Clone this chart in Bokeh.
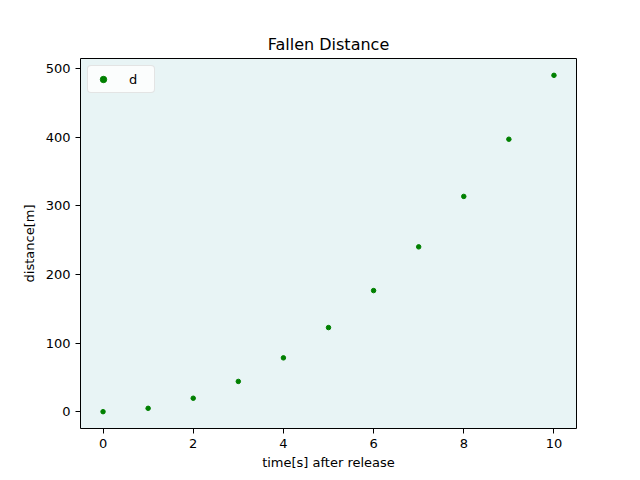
from bokeh.plotting import figure
from bokeh.embed import file_html
from bokeh.resources import INLINE
from bokeh.models import Range1d, FixedTicker, ColumnDataSource

t = [0, 1, 2, 3, 4, 5, 6, 7, 8, 9, 10]
d = [0.0, 4.9, 19.6, 44.1, 78.4, 122.5, 176.4, 240.1, 313.6, 396.9, 490.0]
x_ticks = [0, 2, 4, 6, 8, 10]
y_ticks = [0, 100, 200, 300, 400, 500]

src = ColumnDataSource(dict(t=t, d=d))

p = figure(width=624, height=472, output_backend="svg", toolbar_location=None,
           x_range=Range1d(-0.5, 10.5), y_range=Range1d(-24.5, 514.5),
           min_border_left=80, min_border_right=48, min_border_top=58, min_border_bottom=37,
           title="Fallen Distance")
r = p.scatter("t", "d", source=src, size=4.5, color="green", legend_label="d")

p.background_fill_color = "#e8f4f5"
p.border_fill_color = "white"
p.outline_line_color = "black"
p.outline_line_width = 1
p.grid.visible = False

p.title.align = "center"
p.title.text_font = "DejaVu Sans"
p.title.text_font_size = "16px"
p.title.text_font_style = "normal"
p.title.text_color = "black"

for ax in (p.xaxis[0], p.yaxis[0]):
    ax.major_label_text_font = "DejaVu Sans"
    ax.major_label_text_font_size = "13px"
    ax.axis_label_text_font = "DejaVu Sans"
    ax.axis_label_text_font_size = "13px"
    ax.axis_label_text_font_style = "normal"
    ax.minor_tick_line_color = None
    ax.major_tick_out = 5
    ax.major_tick_in = 0
    ax.axis_line_color = None
    ax.major_label_text_color = "black"
    ax.axis_label_text_color = "black"

p.xaxis[0].ticker = FixedTicker(ticks=x_ticks)
p.yaxis[0].ticker = FixedTicker(ticks=y_ticks)
p.xaxis.axis_label = "time[s] after release"
p.yaxis.axis_label = "distance[m]"
p.xaxis.axis_label_standoff = 4
p.yaxis.axis_label_standoff = 6

p.legend.location = "top_left"
p.legend.background_fill_color = "white"
p.legend.background_fill_alpha = 0.8
p.legend.border_line_color = "#cccccc"
p.legend.border_radius = 4
p.legend.label_text_font = "DejaVu Sans"
p.legend.label_text_font_size = "13px"
p.legend.label_text_color = "black"
p.legend.margin = 7
p.legend.padding = 5
p.legend.glyph_width = 20
p.legend.glyph_height = 16
p.legend.label_standoff = 16

open("out.html", "w").write(file_html(p, INLINE))
